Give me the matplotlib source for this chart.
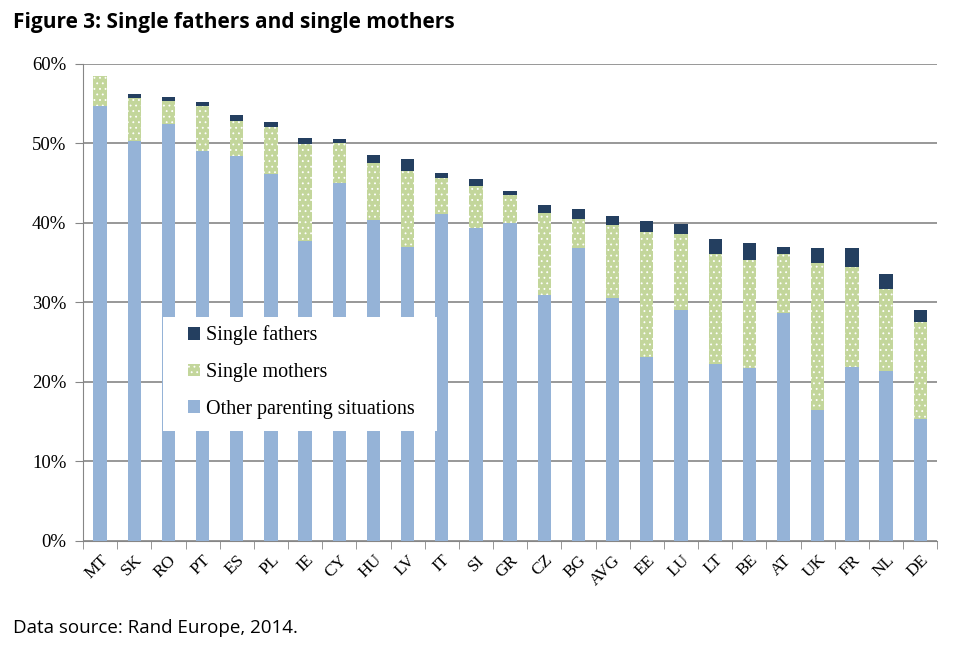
import matplotlib.pyplot as plt
from matplotlib.patches import Rectangle
import numpy as np

countries = ['MT', 'SK', 'RO', 'PT', 'ES', 'PL', 'IE', 'CY', 'HU', 'LV', 'IT', 'SI', 'GR',
             'CZ', 'BG', 'AVG', 'EE', 'LU', 'LT', 'BE', 'AT', 'UK', 'FR', 'NL', 'DE']
other = [54.7, 50.3, 52.4, 49.0, 48.4, 46.2, 37.7, 45.0, 40.4, 37.0, 41.1, 39.4, 40.0,
         31.0, 36.9, 30.5, 23.2, 29.0, 22.2, 21.7, 28.7, 16.5, 21.9, 21.4, 15.3]
mothers = [3.8, 5.4, 2.9, 5.7, 4.4, 5.9, 12.2, 5.0, 7.2, 9.5, 4.6, 5.3, 3.5,
           10.2, 3.6, 9.2, 15.7, 9.6, 13.9, 13.6, 7.4, 18.5, 12.5, 10.3, 12.3]
fathers = [0.0, 0.5, 0.6, 0.5, 0.8, 0.6, 0.8, 0.6, 0.9, 1.5, 0.6, 0.8, 0.5,
           1.1, 1.2, 1.2, 1.4, 1.3, 1.9, 2.2, 0.9, 1.9, 2.4, 1.9, 1.4]

blue = '#95b3d7'
green = '#c3d69b'
navy = '#243f60'
grey = '#868686'

plt.rcParams['font.family'] = ['Liberation Serif', 'DejaVu Serif']
plt.rcParams['hatch.linewidth'] = 0.6
fig = plt.figure(figsize=(9.62, 6.54), dpi=100)
ax = fig.add_axes([0.0863, 0.1728, 0.888, 0.7294])

x = np.arange(len(countries))
other = np.array(other)
mothers = np.array(mothers)
fathers = np.array(fathers)
w = 0.39

b1 = ax.bar(x, other, w, color=blue, linewidth=0, zorder=3,
            label='Other parenting situations')
b2 = ax.bar(x, mothers, w, bottom=other, color=green, edgecolor='white',
            hatch='...', linewidth=0, zorder=3, label='Single mothers')
b3 = ax.bar(x, fathers, w, bottom=other + mothers, color=navy, linewidth=0,
            zorder=3, label='Single fathers')

ax.set_xlim(-0.5, len(countries) - 0.5)
ax.set_ylim(0, 60)
ax.set_yticks(np.arange(0, 61, 10))
ax.set_yticklabels([f'{v}%' for v in range(0, 61, 10)], fontsize=13.5)
ax.yaxis.grid(True, color=grey, linewidth=1.2, zorder=0)

ax.set_xticks(x)
ax.set_xticklabels(countries, rotation=45, ha='right', rotation_mode='anchor', fontsize=12.5)
ax.tick_params(axis='x', length=0, pad=8)
ax.set_xticks(np.arange(-0.5, len(countries), 1), minor=True)
ax.tick_params(axis='x', which='minor', length=6, color=grey)
ax.tick_params(axis='y', length=6, color=grey, pad=6)

for s in ['top', 'right']:
    ax.spines[s].set_visible(False)
ax.spines['left'].set_color(grey)
ax.spines['bottom'].set_color(grey)

# white box behind the legend
ax.add_patch(Rectangle((0.0937, 0.2306), 0.321, 0.239, transform=ax.transAxes,
                       facecolor='white', edgecolor='none', zorder=4))
leg = ax.legend(handles=[b3, b2, b1], loc='center left', bbox_to_anchor=(0.123, 0.354),
                frameon=False, prop={'size': 14.5}, handlelength=0.6, handleheight=0.6,
                labelspacing=0.88, borderpad=0, borderaxespad=0, handletextpad=0.3)
leg.set_zorder(5)

fig.text(0.0135, 0.965, 'Figure 3: Single fathers and single mothers', fontsize=15,
         fontweight='bold', fontfamily='Open Sans', va='center')
fig.text(0.0135, 0.04, 'Data source: Rand Europe, 2014.', fontsize=13.5,
         fontfamily='Open Sans', va='center')

fig.savefig('out.png', dpi=100)
